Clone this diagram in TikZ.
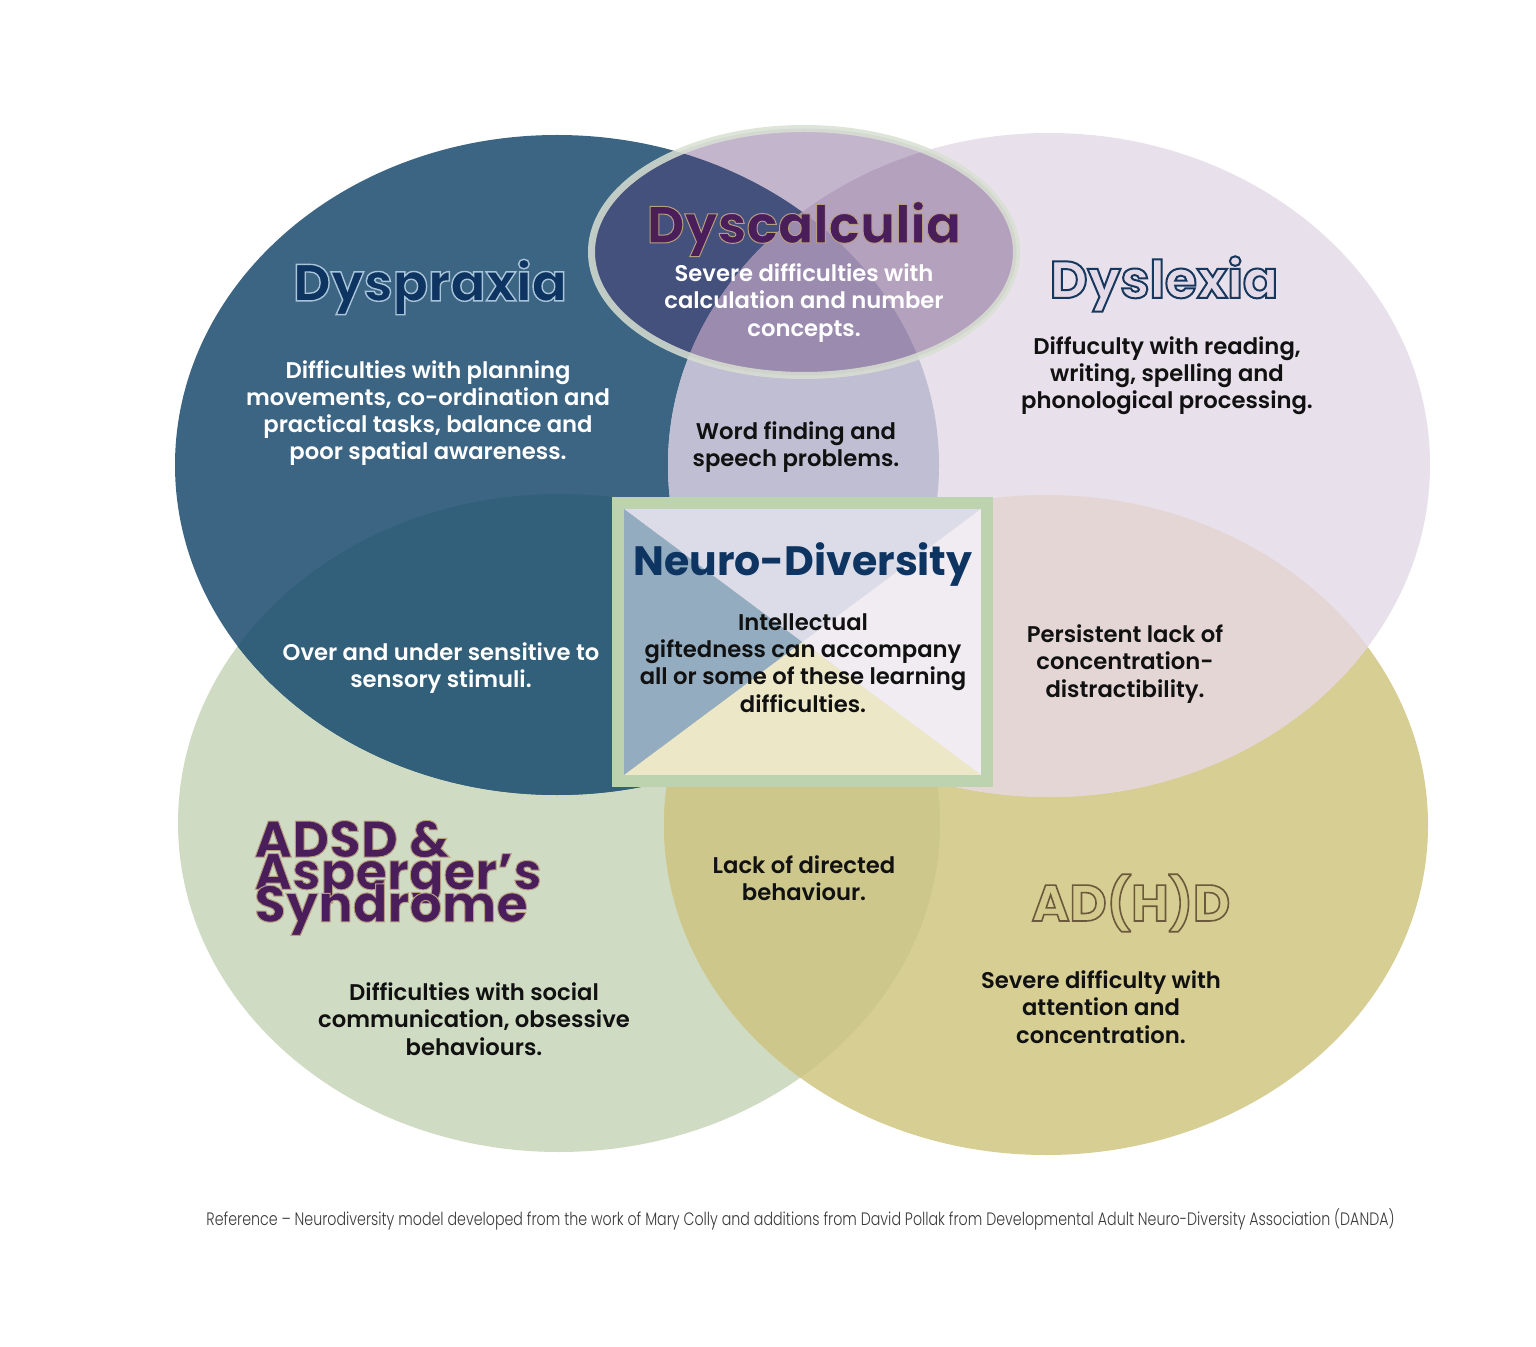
\documentclass[tikz,border=0pt]{standalone}
\usepackage{fontspec}
\setmainfont{Poppins}
\newfontfamily\psemi{Poppins SemiBold}
\newfontfamily\pbold{Poppins Bold}
\newfontfamily\plight{Poppins Light}
% outlined text: #1 stroke rgb, #2 stroke width (bp), #3 text
\newcommand\otext[3]{\special{pdf:literal direct 2 Tr #2 w #1 RG}#3\special{pdf:literal direct 0 Tr}}
\definecolor{cdysp}{HTML}{3C6584}
\definecolor{cdyspadsd}{HTML}{325F79}
\definecolor{cdysl}{HTML}{E8E0EA}
\definecolor{cdysladhd}{HTML}{E3D6D5}
\definecolor{cadhd}{HTML}{D6CE93}
\definecolor{cadsd}{HTML}{CFDCC3}
\definecolor{cadsdadhd}{HTML}{CDC78C}
\definecolor{cdyspdysl}{HTML}{C0BED3}
\definecolor{ccalc}{RGB}{85,45,110}
\definecolor{ccalcring}{HTML}{D8E0D2}
\definecolor{csqborder}{HTML}{BDD3AF}
\definecolor{ctl}{HTML}{94ACC0}
\definecolor{ctt}{HTML}{DCDCE8}
\definecolor{ctr}{HTML}{F0ECF1}
\definecolor{ctb}{HTML}{ECE7C7}
\definecolor{cnavy}{HTML}{0E3562}
\definecolor{cpurple}{HTML}{4A1E5A}
\definecolor{cdyslfill}{HTML}{E4DAE7}
\definecolor{cadhdfill}{HTML}{D3CA8D}
\definecolor{ctext}{HTML}{111111}
\definecolor{cfoot}{HTML}{3A3A3A}
\tikzset{
  body/.style={font=\psemi\fontsize{11.35}{13.6}\selectfont, align=center, inner sep=0pt},
  bodywhite/.style={body, text=white},
  bodyblack/.style={body, text=ctext},
  headbig/.style={font=\pbold\fontsize{26}{30}\selectfont, inner sep=0pt},
}
\begin{document}
\begin{tikzpicture}[x=0.5pt,y=-0.5pt]
\useasboundingbox[fill=white] (0,0) rectangle (1536,1347);
% base ellipses
\fill[cadsd] (559,823) ellipse [x radius=190.5pt, y radius=164.5pt];
\fill[cadhd] (1046,825) ellipse [x radius=191pt, y radius=165pt];
\begin{scope}
  \clip (559,823) ellipse [x radius=190.5pt, y radius=164.5pt];
  \fill[cadsdadhd] (1046,825) ellipse [x radius=191pt, y radius=165pt];
\end{scope}
\fill[cdysp] (557,465) ellipse [x radius=191pt, y radius=165pt];
\begin{scope}
  \clip (557,465) ellipse [x radius=191pt, y radius=165pt];
  \fill[cdyspadsd] (559,823) ellipse [x radius=190.5pt, y radius=164.5pt];
\end{scope}
\fill[cdysl] (1049,465) ellipse [x radius=190.5pt, y radius=166pt];
\begin{scope}
  \clip (1049,465) ellipse [x radius=190.5pt, y radius=166pt];
  \fill[cdysladhd] (1046,825) ellipse [x radius=191pt, y radius=165pt];
\end{scope}
\begin{scope}
  \clip (1049,465) ellipse [x radius=190.5pt, y radius=166pt];
  \fill[cdyspdysl] (557,465) ellipse [x radius=191pt, y radius=165pt];
\end{scope}
% dyscalculia
\path[fill=ccalc, fill opacity=0.35, draw=ccalcring, draw opacity=0.85, line width=3.5pt]
  (804,252) ellipse [x radius=106.25pt, y radius=61.75pt];
% central square
\coordinate (sqc) at (802.5,642);
\fill[ctl] (624,509) -- (624,775) -- (sqc) -- cycle;
\fill[ctt] (624,509) -- (981,509) -- (sqc) -- cycle;
\fill[ctr] (981,509) -- (981,775) -- (sqc) -- cycle;
\fill[ctb] (624,775) -- (981,775) -- (sqc) -- cycle;
\draw[csqborder, line width=6pt] (618,503) rectangle (987,781);
% headings
\node[headbig, text=cnavy] (tdysp) at (430,287) {\otext{0.66 0.77 0.85}{0.7}{Dyspraxia}};
\node[headbig, text=cpurple] (tcalc) at (804,229) {\otext{0.72 0.62 0.50}{0.5}{Dyscalculia}};
\node[headbig, text=cdyslfill] (tdysl) at (1164,284) {\otext{0.09 0.22 0.37}{1.0}{Dyslexia}};
\node[font=\pbold\fontsize{25.6}{30}\selectfont, inner sep=0pt, text=cadhdfill] (tadhd) at (1131,903) {\otext{0.42 0.35 0.23}{0.8}{AD(H)D}};
\node[font=\pbold\fontsize{20.5}{24}\selectfont, text=cnavy, inner sep=0pt] (tnd) at (803,565) {Neuro-Diversity};
\node[font={\pbold\fontsize{25.6}{16.2}\selectfont\lineskiplimit=-50pt\lineskip=0pt}, text=cpurple, inner sep=0pt, align=left, anchor=north west] (tadsd) at (254,820)
  {\otext{0.72 0.62 0.50}{0.5}{ADSD \&}\\\otext{0.72 0.62 0.50}{0.5}{Asperger’s}\\\otext{0.72 0.62 0.50}{0.5}{Syndrome}};
% descriptions
\node[bodywhite] (ddysp) at (428,413) {Difficulties with planning\\movements, co-ordination and\\practical tasks, balance and\\poor spatial awareness.};
\node[bodywhite] (dcalc) at (804,303) {Severe difficulties with\\calculation and number\\concepts.};
\node[bodyblack] (ddysl) at (1167,376) {Diffuculty with reading,\\writing, spelling and\\phonological processing.};
\node[bodyblack] (dword) at (796,447) {Word finding and\\speech problems.};
\node[bodywhite] (dover) at (441,668) {Over and under sensitive to\\sensory stimuli.};
\node[bodyblack] (dnd) at (803,663) {Intellectual\\giftedness can accompany\\all or some of these learning\\difficulties.};
\node[bodyblack] (dpers) at (1125,664) {Persistent lack of\\concentration-\\distractibility.};
\node[bodyblack] (dadsd) at (474,1019) {Difficulties with social\\communication, obsessive\\behaviours.};
\node[bodyblack] (dlack) at (804,878) {Lack of directed\\behaviour.};
\node[bodyblack] (dadhd) at (1101,1007) {Severe difficulty with\\attention and\\concentration.};
% footer
\node[inner sep=0pt, text=cfoot] (foot) at (800.5,1219) {\resizebox{594pt}{\height}{\plight\fontsize{9}{11}\selectfont Reference – Neurodiversity model developed from the work of Mary Colly and additions from David Pollak from Developmental Adult Neuro-Diversity Association (DANDA)}};
\end{tikzpicture}
\end{document}
